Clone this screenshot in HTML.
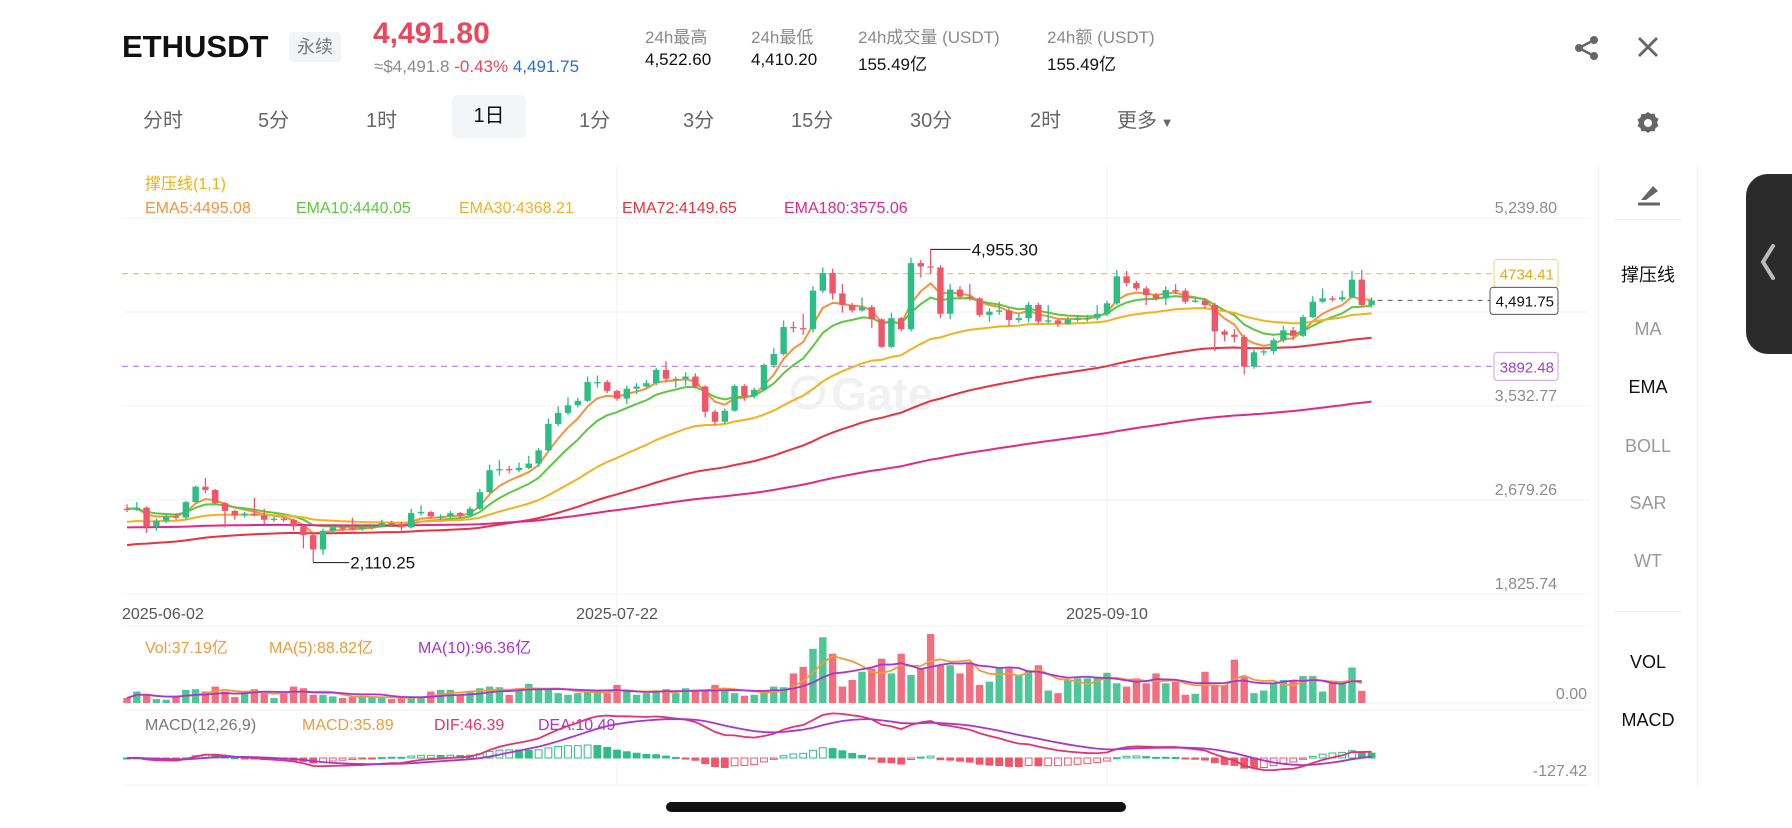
<!DOCTYPE html>
<html><head><meta charset="utf-8">
<style>
body{margin:0;width:1792px;height:828px;overflow:hidden;background:#fff;font-family:"Liberation Sans","Noto Sans CJK SC",sans-serif;position:relative}
.a{position:absolute;white-space:nowrap}
.g{color:#8a8a8a}
.tab{position:absolute;top:104px;font-size:20px;color:#666}
.side{position:absolute;left:1598px;width:100px;text-align:center;font-size:18px;color:#999}
</style></head><body>
<div class="a" style="left:122px;top:29px;font-size:31px;font-weight:bold;color:#111">ETHUSDT</div>
<div class="a" style="left:289px;top:32px;width:52px;height:30px;background:#f3f4f6;border-radius:4px;font-size:18px;color:#777;text-align:center;line-height:30px">永续</div>
<div class="a" style="left:373px;top:17px;font-size:30px;font-weight:bold;color:#e8475d">4,491.80</div>
<div class="a" style="left:374px;top:57px;font-size:17px"><span class="g">≈$4,491.8</span> <span style="color:#e8475d">-0.43%</span> <span style="color:#1f6fd9">4,491.75</span></div>
<div class="a g" style="left:645px;top:23px;font-size:17px">24h最高</div>
<div class="a" style="left:645px;top:50px;font-size:17px;color:#111">4,522.60</div>
<div class="a g" style="left:751px;top:23px;font-size:17px">24h最低</div>
<div class="a" style="left:751px;top:50px;font-size:17px;color:#111">4,410.20</div>
<div class="a g" style="left:858px;top:23px;font-size:17px">24h成交量 (USDT)</div>
<div class="a" style="left:858px;top:50px;font-size:17px;color:#111">155.49亿</div>
<div class="a g" style="left:1047px;top:23px;font-size:17px">24h额 (USDT)</div>
<div class="a" style="left:1047px;top:50px;font-size:17px;color:#111">155.49亿</div>
<svg class="a" style="left:1574px;top:35px" width="26" height="26" viewBox="0 0 26 26"><circle cx="20" cy="5" r="4" fill="#666"/><circle cx="5" cy="13" r="4" fill="#666"/><circle cx="20" cy="21" r="4" fill="#666"/><path d="M5 13L20 5M5 13L20 21" stroke="#666" stroke-width="2.5"/></svg>
<svg class="a" style="left:1637px;top:36px" width="22" height="22"><path d="M2 2L20 20M20 2L2 20" stroke="#666" stroke-width="2.8"/></svg>
<div class="tab" style="left:143px">分时</div>
<div class="tab" style="left:258px">5分</div>
<div class="tab" style="left:366px">1时</div>
<div class="a" style="left:452px;top:95px;width:74px;height:43px;background:#f4f5f7;border-radius:6px;text-align:center;line-height:43px;font-size:20px;color:#111">1日</div>
<div class="tab" style="left:579px">1分</div>
<div class="tab" style="left:683px">3分</div>
<div class="tab" style="left:791px">15分</div>
<div class="tab" style="left:910px">30分</div>
<div class="tab" style="left:1030px">2时</div>
<div class="tab" style="left:1117px">更多<span style="font-size:13px"> ▼</span></div>
<svg class="a" style="left:1636px;top:111px" width="24" height="24" viewBox="0 0 24 24"><path d="M12 1l3 2 3.5-.5 1 3.5 3 2-1.5 3.5 1.5 3.5-3 2-1 3.5-3.5-.5-3 2-3-2-3.5.5-1-3.5-3-2L3 12 1.5 8.5l3-2 1-3.5L9 3z" fill="#666"/><circle cx="12" cy="12" r="4" fill="#fff"/></svg>
<svg class="a" style="left:1636px;top:182px" width="26" height="24"><path d="M2 22H24" stroke="#666" stroke-width="3"/><path d="M5 18L17 4 22 9 10 18z" fill="#666"/></svg>
<div class="a" style="left:1614px;top:219px;width:68px;height:1px;background:#eee"></div>
<div class="side" style="top:261px;color:#111">撑压线</div>
<div class="side" style="top:319px">MA</div>
<div class="side" style="top:377px;color:#111">EMA</div>
<div class="side" style="top:436px">BOLL</div>
<div class="side" style="top:493px">SAR</div>
<div class="side" style="top:551px">WT</div>
<div class="a" style="left:1614px;top:611px;width:68px;height:1px;background:#eee"></div>
<div class="side" style="top:652px;color:#111">VOL</div>
<div class="side" style="top:710px;color:#111">MACD</div>
<div class="a" style="left:1598px;top:166px;width:1px;height:620px;background:#f0f0f0"></div>
<div class="a" style="left:1697px;top:166px;width:1px;height:620px;background:#f0f0f0"></div>
<div class="a" style="left:1746px;top:174px;width:60px;height:180px;background:#2b2b2b;border-radius:22px 0 0 22px"></div>
<svg class="a" style="left:1760px;top:244px" width="16" height="36"><path d="M13 2L3 18 13 34" stroke="#bbb" stroke-width="4" fill="none" stroke-linecap="round"/></svg>
<div class="a" style="left:666px;top:802px;width:460px;height:10px;background:#111;border-radius:5px"></div>

<svg id="chart" class="a" style="left:0;top:0" width="1792" height="828"></svg>
<script>
const closes=[2590,2610,2440,2490,2530,2520,2660,2800,2770,2650,2580,2540,2555,2540,2500,2510,2500,2440,2360,2230,2400,2430,2425,2420,2430,2440,2470,2460,2430,2560,2570,2530,2530,2560,2540,2600,2750,2950,2960,2950,2970,3010,3130,3370,3470,3540,3580,3750,3750,3670,3600,3690,3710,3740,3860,3780,3780,3800,3710,3480,3390,3490,3715,3620,3680,3905,4005,4250,4240,4230,4580,4740,4555,4450,4400,4430,4320,4070,4330,4230,4830,4800,4790,4370,4590,4525,4510,4360,4390,4400,4313,4330,4450,4300,4310,4280,4315,4330,4330,4370,4465,4710,4650,4600,4540,4510,4585,4580,4480,4490,4450,4210,4180,4160,3890,4020,4030,4130,4220,4170,4340,4480,4510,4500,4520,4680,4450,4491.75];
const highs=[2640,2660,2620,2510,2550,2560,2670,2810,2880,2780,2660,2590,2570,2700,2600,2530,2520,2510,2450,2370,2420,2450,2440,2520,2450,2460,2500,2490,2480,2600,2630,2580,2550,2580,2570,2620,2780,3000,3040,2990,3020,3080,3150,3420,3530,3610,3610,3800,3810,3770,3680,3720,3740,3770,3880,3940,3800,3840,3830,3720,3500,3510,3730,3730,3700,3920,4060,4310,4300,4370,4620,4790,4780,4640,4470,4520,4450,4330,4380,4340,4880,4860,4955.3,4810,4640,4620,4640,4520,4420,4480,4420,4370,4480,4470,4450,4320,4340,4350,4360,4450,4490,4770,4760,4670,4620,4560,4620,4640,4600,4510,4510,4470,4230,4230,4180,4060,4070,4150,4260,4250,4360,4530,4600,4530,4580,4760,4770,4520];
const lows=[2570,2580,2380,2400,2470,2500,2500,2650,2740,2640,2430,2500,2520,2530,2460,2480,2480,2400,2240,2110.25,2180,2380,2400,2400,2400,2410,2430,2440,2400,2420,2540,2510,2500,2510,2520,2520,2590,2740,2900,2920,2930,2960,2980,3120,3350,3450,3520,3570,3700,3650,3580,3550,3640,3700,3720,3750,3700,3720,3690,3430,3360,3370,3480,3580,3600,3670,3880,3990,4200,4180,4200,4560,4500,4380,4380,4390,4240,4060,4060,4210,4210,4700,4730,4330,4320,4500,4490,4340,4300,4360,4260,4290,4290,4280,4280,4250,4270,4300,4300,4310,4350,4450,4620,4580,4450,4490,4450,4550,4460,4470,4420,4030,4120,4110,3820,3870,3990,4000,4110,4130,4160,4330,4470,4480,4480,4510,4430,4430];
const firstOpen=2600;
const vols=[15,35,25,12,10,18,40,42,35,50,35,18,35,42,30,15,30,50,45,25,25,20,15,18,18,20,18,12,15,18,20,35,40,40,25,35,45,50,48,25,45,58,45,45,30,25,30,40,35,30,55,35,25,30,38,42,30,45,38,40,55,45,30,22,25,38,50,48,90,110,165,200,150,50,70,95,105,135,90,150,85,105,210,115,115,90,120,55,65,105,105,85,100,115,38,30,70,75,75,80,92,60,50,75,60,90,60,65,25,28,95,55,55,132,80,30,38,60,70,70,82,82,35,60,60,108,37.19];
const emaPeriods=[5,10,30,72,180];
const emaSeeds=[2600,2600,2480,2270,2430];
const emaColors=['#f5923e','#5cc93c','#f2b21f','#e5333f','#e0288a'];
const priceTicks=[5239.80,4386.28,3532.77,2679.26,1825.74];
const priceTickLabels=['5,239.80','','3,532.77','2,679.26','1,825.74'];
const dateIdx=[0,50,100];
const dateLabels=['2025-06-02','2025-07-22','2025-09-10'];
const resistance=4734.41, support=3892.48, lastPx=4491.75;

const NS='http://www.w3.org/2000/svg', svg=document.getElementById('chart');
function mk(t,a,p){const e=document.createElementNS(NS,t);for(const k in a)e.setAttribute(k,a[k]);(p||svg).appendChild(e);return e;}
const X=i=>127+i*9.8;
const Y=p=>218+(5239.8-p)*0.11013;
const VY=v=>703-v*69/210;
const MY=v=>758-v*0.14;
const UP='#2ebd85', DN='#f0566a';
const opens=closes.map((c,i)=>i===0?firstOpen:closes[i-1]);

priceTicks.forEach((p,k)=>{const l=mk('line',{x1:122,x2:1590,y1:Y(p),y2:Y(p),stroke:'#f2f2f2'});
 if(priceTickLabels[k]){const t=mk('text',{x:1557,y:Y(p)-5,'text-anchor':'end','font-size':16,fill:'#8c8c8c'});t.textContent=priceTickLabels[k];}});
dateIdx.forEach((d,k)=>{if(k>0){const l=mk('line',{x1:X(d),x2:X(d),y1:166,y2:785,stroke:'#f2f2f2'});}
 const t=mk('text',{x:k===0?122:X(d),y:619,'text-anchor':k===0?'start':'middle','font-size':16,fill:'#555'});t.textContent=dateLabels[k];});
[594,626,703,710,785].forEach(y=>mk('line',{x1:122,x2:1590,y1:y,y2:y,stroke:'#f3f3f3'}));
const wm=mk('text',{x:785,y:410,'font-size':46,'font-weight':'bold',fill:'#f1f1f1'});wm.textContent='⊙Gate';


function txt(x,y,s,c,n,sz){const t=mk('text',{x:x,y:y,'font-size':sz||16,fill:c});t.textContent=s;return t;}
txt(145,189,'撑压线(1,1)','#eab308','sr-legend');
const emaLegend=['EMA5:4495.08','EMA10:4440.05','EMA30:4368.21','EMA72:4149.65','EMA180:3575.06'];
[145,296,459,622,784].forEach((x,k)=>txt(x,213,emaLegend[k],emaColors[k],'ema-legend-'+emaPeriods[k]));
txt(145,653,'Vol:37.19亿','#f29a3a','vol-legend');txt(269,653,'MA(5):88.82亿','#f29a3a','vol-ma5-legend');txt(418,653,'MA(10):96.36亿','#a934cf','vol-ma10-legend');
txt(145,730,'MACD(12,26,9)','#777','macd-legend');txt(302,730,'MACD:35.89','#f29a3a','macd-value-legend');txt(434,730,'DIF:46.39','#e6336f','dif-legend');txt(538,730,'DEA:10.49','#a934cf','dea-legend');
txt(1587,699,'0.00','#8c8c8c','vol-axis-label').setAttribute('text-anchor','end');
txt(1587,776,'-127.42','#8c8c8c','macd-axis-label').setAttribute('text-anchor','end');

function hl(p,c,n){const l=mk('line',{x1:122,x2:1494,y1:Y(p),y2:Y(p),stroke:c,'stroke-dasharray':'6 5','stroke-width':1.3});}
hl(resistance,'#f2c94c','resistance-line');hl(support,'#c48bea','support-line');
function box(p,s,c,b,n){const g=mk('g',{});
 mk('rect',{x:1494,y:Y(p)-14,width:64,height:28,rx:3,fill:'#fff',stroke:b},g);const t=mk('text',{x:1554,y:Y(p)+6,'text-anchor':'end','font-size':15,fill:c},g);t.textContent=s;}
box(resistance,'4734.41','#e6a817','#f2d27a','resistance-label');box(support,'3892.48','#9b40d6','#c9a0ec','support-label');

emaPeriods.forEach((n,k)=>{const a=2/(n+1);let e=emaSeeds[k];const pts=closes.map((c,i)=>{e=i===0?e:e+a*(c-e);return X(i).toFixed(1)+','+Y(e).toFixed(1);});
 const l=mk('polyline',{points:pts.join(' '),fill:'none',stroke:emaColors[k],'stroke-width':2});});

closes.forEach((c,i)=>{const o=opens[i],up=c>=o,col=up?UP:DN,x=X(i);
 const g=mk('g',{});
 mk('line',{x1:x,x2:x,y1:Y(highs[i]),y2:Y(lows[i]),stroke:col,'stroke-width':1.3},g);
 const t=Y(Math.max(o,c)),b=Y(Math.min(o,c));mk('rect',{x:x-3.2,y:t,width:6.4,height:Math.max(1.3,b-t),fill:col},g);});

let hi=highs.indexOf(Math.max(...highs)),lo=lows.indexOf(Math.min(...lows));
mk('line',{x1:X(hi),x2:X(hi)+40,y1:Y(highs[hi]),y2:Y(highs[hi]),stroke:'#111'});txt(X(hi)+41,Y(highs[hi])+6,'4,955.30','#111','max-price-callout',17);
mk('line',{x1:X(lo),x2:X(lo)+36,y1:Y(lows[lo]),y2:Y(lows[lo]),stroke:'#111'});txt(X(lo)+37,Y(lows[lo])+6,'2,110.25','#111','min-price-callout',17);

const lp=mk('line',{x1:X(closes.length-1)+6,x2:1490,y1:Y(lastPx),y2:Y(lastPx),stroke:'#555','stroke-dasharray':'5 5'});
const lg=mk('g',{});
mk('rect',{x:1490,y:Y(lastPx)-13,width:68,height:27,rx:3,fill:'#fff',stroke:'#555'},lg);const lt=mk('text',{x:1554,y:Y(lastPx)+6,'text-anchor':'end','font-size':15,fill:'#111'},lg);lt.textContent='4,491.75';

vols.forEach((v,i)=>{const r=mk('rect',{x:X(i)-3.7,y:VY(v),width:7.4,height:703-VY(v),fill:closes[i]>=opens[i]?UP:DN,opacity:0.85});});
function ma(arr,n){return arr.map((_,i)=>{const s=arr.slice(Math.max(0,i-n+1),i+1);return s.reduce((a,b)=>a+b,0)/s.length;});}
[[5,'#f29a3a'],[10,'#a934cf']].forEach(([n,c])=>{const m=ma(vols,n);const l=mk('polyline',{points:m.map((v,i)=>X(i)+','+VY(v)).join(' '),fill:'none',stroke:c,'stroke-width':1.8});});

let e12=closes[0],e26=closes[0],dea=0;const dif=[],deaA=[],hist=[];
closes.forEach((c,i)=>{e12+=2/13*(c-e12);e26+=2/27*(c-e26);const d=e12-e26;dea+=2/10*(d-dea);dif.push(d);deaA.push(dea);hist.push(d-dea);});
hist.forEach((h,i)=>{const prev=i?hist[i-1]:0,col=h>=0?UP:DN;const hollow=h>prev;
 const y1=Math.min(MY(0),MY(h)),hh=Math.max(1,Math.abs(MY(h)-MY(0)));
 const r=mk('rect',{x:X(i)-3.4,y:y1,width:6.8,height:hh,fill:hollow?'#fff':col,stroke:col,'stroke-width':1});});
[[dif,'#e6336f','dif-line'],[deaA,'#a934cf','dea-line']].forEach(([a,c,n])=>{const l=mk('polyline',{points:a.map((v,i)=>X(i)+','+MY(v)).join(' '),fill:'none',stroke:c,'stroke-width':1.8});});
</script>
</body></html>
